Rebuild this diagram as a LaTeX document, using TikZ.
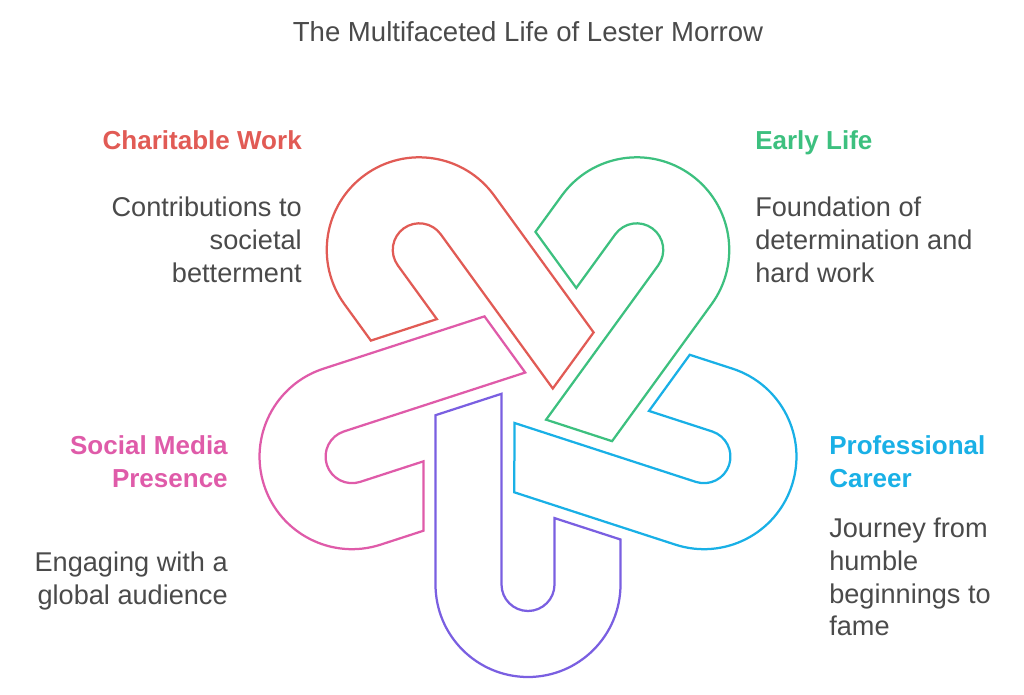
\documentclass[tikz,border=0pt]{standalone}
\usepackage{fontspec}
\setmainfont{Liberation Sans}
\usepackage{tikz}
\usetikzlibrary{calc}
\definecolor{charred}{HTML}{E15B55}
\definecolor{earlygreen}{HTML}{3DC07F}
\definecolor{careercyan}{HTML}{19B0E6}
\definecolor{mediapink}{HTML}{DF5BA9}
\definecolor{hookpurple}{HTML}{7A5FE1}
\definecolor{bodygray}{HTML}{4A4A4A}

\begin{document}
\begin{tikzpicture}[x=0.025cm,y=0.025cm,
  hook/.style={line width=1.6pt,line join=miter},
  head/.style={inner sep=0pt,font=\fontsize{18.5}{23.4}\selectfont\bfseries},
  body/.style={inner sep=0pt,text=bodygray,font=\fontsize{19.3}{23.4}\selectfont}]
\useasboundingbox (0,0) rectangle (1024,695);
\def\ro{92.5}
\def\ri{26.5}
% five hooks, turned about the middle
\foreach \k/\c in {0/hookpurple,1/careercyan,2/earlygreen,3/charred,4/mediapink}{
\begin{scope}[shift={(528,295.5)},rotate=72*\k]
\draw[hook,\c] (-92.5,-15.7) -- (-26.5,5.7) -- (-26.5,-185) arc (180:360:\ri)
  -- (26.5,-118.6) -- (92.5,-140) -- (92.5,-185) arc (0:-180:\ro) -- cycle;
\end{scope}
}
% texts (base = last line)
\node[body,font=\fontsize{19.6}{23.4}\selectfont,anchor=base] (title) at (528,653.3) {The Multifaceted Life of Lester Morrow};
\node[head,text=charred,anchor=base east] (charity) at (302,545.5) {Charitable Work};
\node[body,align=right,anchor=base east] (charitytext) at (302,412.3) {Contributions to\\societal\\betterment};
\node[head,text=earlygreen,anchor=base west] (early) at (755,545.5) {Early Life};
\node[body,align=left,anchor=base west] (earlytext) at (755,412.3) {Foundation of\\determination and\\hard work};
\node[head,text=mediapink,align=right,anchor=base east] (media) at (228,207.5) {Social Media\\Presence};
\node[body,align=right,anchor=base east] (mediatext) at (228,90.3) {Engaging with a\\global audience};
\node[head,text=careercyan,align=left,anchor=base west] (career) at (829,207.5) {Professional\\Career};
\node[body,align=left,anchor=base west] (careertext) at (829,59) {Journey from\\humble\\beginnings to\\fame};
\end{tikzpicture}
\end{document}
